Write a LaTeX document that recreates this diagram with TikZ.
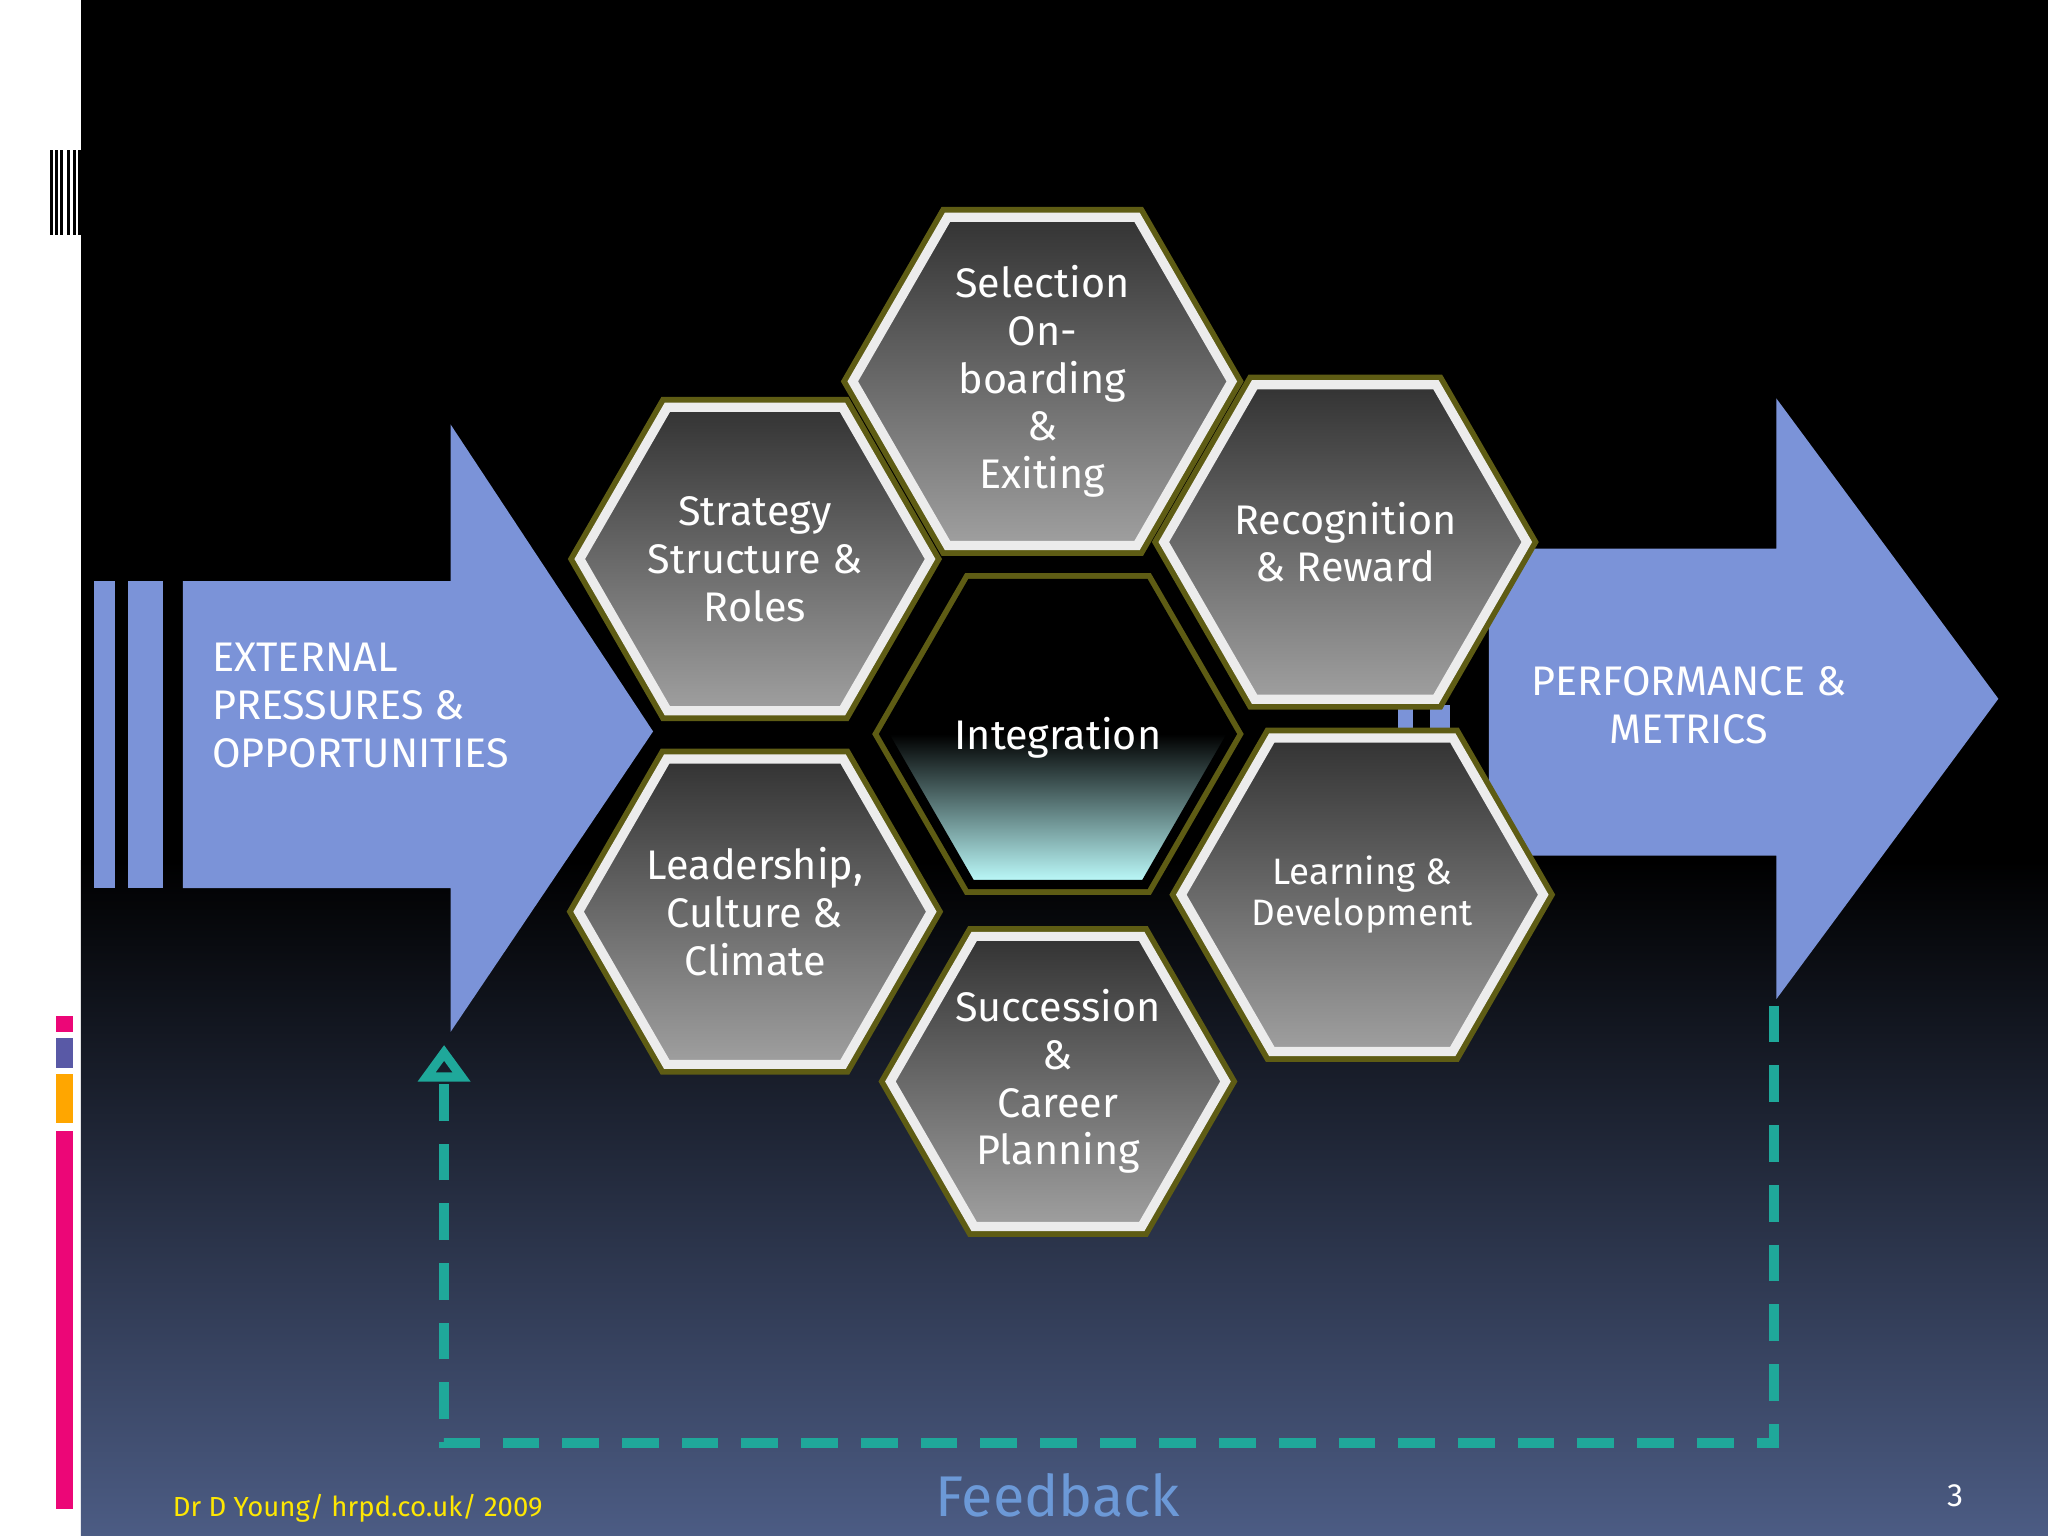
\documentclass[tikz,border=0pt]{standalone}
\usepackage{fontspec}
\setmainfont{Fira Sans}
\usetikzlibrary{shapes.geometric,arrows.meta}
\definecolor{arrowblue}{HTML}{7B93D8}
\definecolor{glow}{HTML}{5E5C14}
\definecolor{dashteal}{HTML}{1FA89A}
\definecolor{bottomgrey}{HTML}{4C5C84}
\begin{document}
\begin{tikzpicture}[x=0.01cm,y=-0.01cm,
  hexa/.style={regular polygon, regular polygon sides=6, minimum size=2.52cm, inner sep=0pt,
    top color=gray!40!black, bottom color=gray!75, draw=white!85!gray, line width=2pt,
    preaction={draw=glow, line width=4.5pt},
    text=white, align=center, font=\fontsize{9}{10.4}\selectfont},
  caption/.style={text=white, align=left, font=\fontsize{9}{10.4}\selectfont}]
% Background
\useasboundingbox (0,0) rectangle (1568,1176);
\fill[white] (0,0) rectangle (62,1176);
\fill[black] (62,0) rectangle (1568,660);
\fill[top color=black, bottom color=bottomgrey] (62,659) rectangle (1568,1176);
% Margin marks
\foreach \x in {38,42,46,51,56,60} \fill[black] (\x,115) rectangle ++(2.5,65);
\fill[magenta!80!red] (43,778) rectangle (56,790);
\fill[gray!70!blue] (43,795) rectangle (56,818);
\fill[orange!70!yellow] (43,822) rectangle (56,860);
\fill[magenta!80!red] (43,866) rectangle (56,1155);
% Arrows
\fill[arrowblue] (72,445) rectangle (88,680);
\fill[arrowblue] (98,445) rectangle (125,680);
\fill[arrowblue] (140,445) -- (345,445) -- (345,325) -- (500,560) -- (345,790) -- (345,680) -- (140,680) -- cycle;
\fill[arrowblue] (1070,540) rectangle (1082,560);
\fill[arrowblue] (1095,540) rectangle (1110,560);
\fill[arrowblue] (1140,420) -- (1360,420) -- (1360,305) -- (1530,535) -- (1360,765) -- (1360,655) -- (1140,655) -- cycle;
\node[caption, anchor=west] (ext) at (150,540) {EXTERNAL\\PRESSURES \&\\OPPORTUNITIES};
\node[caption, align=center] (perf) at (1293,540) {PERFORMANCE \&\\METRICS};
% Hexagons
\node[hexa] (sel) at (798,292) {Selection\\On-\\boarding\\\&\\Exiting};
\node[hexa] (strat) at (578,428) {Strategy\\Structure \&\\Roles};
\node[hexa] (recog) at (1030,415) {Recognition\\\& Reward};
\node[hexa, minimum size=2.66cm, top color=black, bottom color=cyan!25, draw=black, middle color=black,
  preaction={draw=glow, line width=3pt}] (integ) at (810,562) {};
\node[text=white, font=\fontsize{9}{10.4}\selectfont] (integtext) at (810,565) {Integration};
\node[hexa] (lead) at (578,698) {Leadership,\\Culture \&\\Climate};
\node[hexa, font=\fontsize{8}{9}\selectfont] (learn) at (1043,685) {Learning \&\\Development};
\node[hexa] (succ) at (810,828) {Succession\\\&\\Career\\Planning};
% Feedback loop
\coordinate (fbstart) at (1358,770);
\coordinate (fbcorner) at (1358,1105);
\coordinate (fbleft) at (340,1105);
\coordinate (fbend) at (340,800);
\draw[dashteal, line width=2.2pt, dash pattern=on 8pt off 5pt, -{Triangle[open,length=8pt,width=11pt]}]
  (fbstart) -- (fbcorner) -- (fbleft) -- (fbend);
% Footer
\node[text=yellow!90!orange, anchor=west, font=\fontsize{6}{7}\selectfont] (credit) at (120,1155) {Dr D Young/ hrpd.co.uk/ 2009};
\node[text=cyan!50!blue!60!white, font=\fontsize{12.5}{14}\selectfont] (fb) at (810,1145) {Feedback};
\node[text=white, font=\fontsize{7}{8}\selectfont] (pg) at (1497,1145) {3};
\end{tikzpicture}
\end{document}
